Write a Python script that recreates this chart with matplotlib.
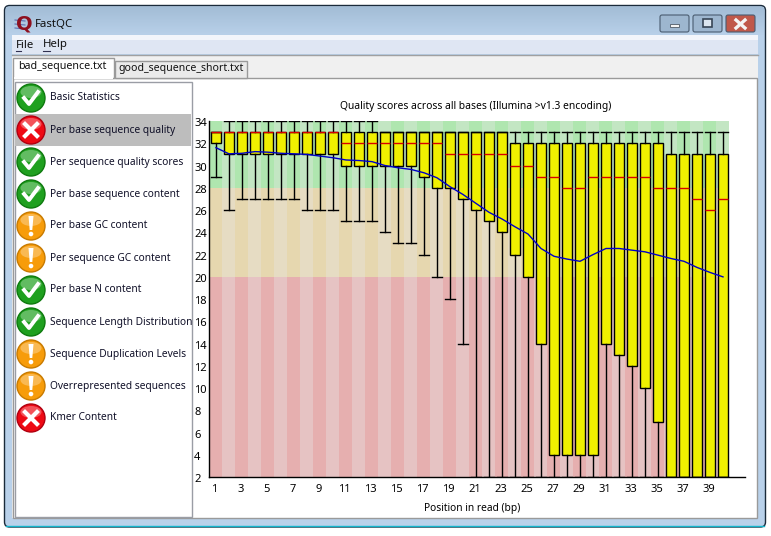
import numpy as np
import matplotlib
matplotlib.use("Agg")
import matplotlib.pyplot as plt
from matplotlib.patches import Circle, Ellipse, FancyBboxPatch, Polygon, Rectangle
from matplotlib.transforms import ScaledTranslation

plt.rcParams["font.family"] = "Noto Sans"

W, H = 771, 536

# Per base quality data
positions = list(range(1, 41))
medians = [33, 33, 33, 33, 33, 33, 33, 33, 33, 33,
           32, 32, 32, 32, 32, 32, 32, 32, 31, 31,
           31, 31, 31, 30, 30, 29, 29, 28, 28, 29,
           29, 29, 29, 29, 28, 28, 28, 27, 26, 27]
q75 = [33, 33, 33, 33, 33, 33, 33, 33, 33, 33,
       33, 33, 33, 33, 33, 33, 33, 33, 33, 33,
       33, 33, 33, 32, 32, 32, 32, 32, 32, 32,
       32, 32, 32, 32, 32, 31, 31, 31, 31, 31]
q25 = [32, 31, 31, 31, 31, 31, 31, 31, 31, 31,
       30, 30, 30, 30, 30, 30, 29, 28, 28, 27,
       26, 25, 24, 22, 20, 14, 4, 4, 4, 4,
       14, 13, 12, 10, 7, 2, 2, 2, 2, 2]
lows = [29, 26, 27, 27, 27, 27, 27, 26, 26, 26,
        25, 25, 25, 24, 23, 23, 22, 20, 18, 14,
        2, 2, 2, 2, 2, 2, 2, 2, 2, 2,
        2, 2, 2, 2, 2, 2, 2, 2, 2, 2]
highs = [33, 34, 34, 34, 34, 34, 34, 34, 34, 34,
         34, 34, 34, 33, 33, 33, 33, 33, 33, 33,
         33, 33, 33, 33, 33, 33, 33, 33, 33, 33,
         33, 33, 33, 33, 33, 33, 33, 33, 33, 33]
means = [31.6, 31.05, 31.1, 31.25, 31.2, 31.1, 31.05, 31.0, 30.85, 30.7,
         30.5, 30.45, 30.35, 30.0, 29.8, 29.65, 29.35, 28.9, 28.1, 27.4,
         26.6, 25.8, 25.2, 24.5, 23.85, 22.55, 21.85, 21.6, 21.4, 22.0,
         22.55, 22.55, 22.4, 22.25, 21.95, 21.65, 21.4, 20.85, 20.4, 20.0]

# quality zones: bottom, top, colour on odd positions, colour on even ones
zone_edges = [2, 20, 28, 34]
zone_odd = ["#E6AFAF", "#E6D7AF", "#AFE6AF"]
zone_even = ["#E6C3C3", "#E6DCC3", "#C3E6C3"]

modules = ["Basic Statistics", "Per base sequence quality", "Per sequence quality scores",
           "Per base sequence content", "Per base GC content", "Per sequence GC content",
           "Per base N content", "Sequence Length Distribution", "Sequence Duplication Levels",
           "Overrepresented sequences", "Kmer Content"]
statuses = ["ok", "fail", "ok", "ok", "warn", "warn", "ok", "ok", "warn", "warn", "fail"]
status_colors = {"ok": ("#1FA01F", "#0E7A0E"), "fail": ("#EE0A14", "#B00010"), "warn": ("#F79C0A", "#C87A00")}

fig = plt.figure(figsize=(W / 100, H / 100), dpi=100, facecolor="white")

# window chrome, drawn in pixel coordinates
chrome = fig.add_axes([0, 0, 1, 1])
chrome.axis("off")


def box(x0, y0, x1, y1, fc, ec="none", lw=1, z=1):
    chrome.add_patch(Rectangle((x0, y0), x1 - x0, y1 - y0, facecolor=fc, edgecolor=ec, linewidth=lw, zorder=z))


chrome.add_patch(FancyBboxPatch((4.5, 5.5), 761, 521.5, boxstyle="round,pad=0,rounding_size=5",
                                facecolor="#B9D1EA", edgecolor="#1A2A3A", linewidth=1, zorder=0))
grad = np.linspace(0, 1, 30).reshape(-1, 1)
chrome.imshow(grad, extent=(6, 764, 35, 7), aspect="auto", cmap=matplotlib.colors.LinearSegmentedColormap.from_list(
    "bar", ["#A3BDD6", "#B8D0E9"]), zorder=1)
chrome.set_xlim(0, W)
chrome.set_ylim(H, 0)

box(12, 35, 758, 54, "#DFE6F3", z=2)
box(12, 35, 758, 40, "#F2F5FB", z=2)
chrome.plot([12, 758], [54.5, 54.5], color="#A0A0A0", lw=1, zorder=3)
box(12, 55, 758, 518, "#F0F0F0", z=2)
box(12.5, 77.5, 756.5, 518, "white", ec="#9A9A9A", z=3)
box(114.5, 60.5, 246.5, 77.5, "#EAEAEA", ec="#9A9A9A", z=3)
box(12.5, 57.5, 113.5, 78, "white", ec="#9A9A9A", z=4)
box(13.5, 77, 113, 79, "white", z=4)
box(14.5, 81.5, 191.5, 516.5, "white", ec="#9A9DA5", z=4)
box(15, 114, 191, 146, "#BDBDBD", z=5)
chrome.plot([6, 764], [526, 526], color="#12B5CC", lw=1, zorder=3)

chrome.text(35, 24.5, "FastQC", fontsize=8.2, va="center", color="#101010", zorder=6)
for yy in [20, 24, 28]:
    chrome.plot([15, 25], [yy, yy + 1], color="#3A4A9A", lw=0.8, alpha=0.7, zorder=5)
chrome.text(24, 23.5, "Q", fontsize=14, fontweight="bold", family="DejaVu Sans", ha="center", va="center",
            color="#8E1020", zorder=6)

chrome.text(16, 45, "File", fontsize=8.2, va="center", color="#101010", zorder=6)
chrome.text(43, 45, "Help", fontsize=8.2, va="center", color="#101010", zorder=6)
chrome.plot([16, 21], [51, 51], color="#303050", lw=0.8, zorder=6)
chrome.plot([43, 50], [51, 51], color="#303050", lw=0.8, zorder=6)
chrome.text(18, 67, "bad_sequence.txt", fontsize=7.7, va="center", color="#101010", zorder=6)
chrome.text(118, 69, "good_sequence_short.txt", fontsize=7.6, va="center", color="#101010", zorder=6)

# minimise, maximise, close
for x0, x1, col in [(660, 689, "#9DB6CF"), (693, 722, "#9DB6CF"), (726, 755, "#C0584A")]:
    chrome.add_patch(FancyBboxPatch((x0, 15), x1 - x0, 17, boxstyle="round,pad=0,rounding_size=2",
                                    facecolor=col, edgecolor="#4A5C70", linewidth=0.8, zorder=3))
box(670, 24, 679, 27, "#F4F4F4", ec="#505A66", lw=0.6, z=4)
box(703, 19, 712, 27, "#DCE6F0", ec="#384656", lw=1.2, z=4)
chrome.plot([736, 745], [20, 28], color="#F4F4F4", lw=2.4, zorder=4)
chrome.plot([736, 745], [28, 20], color="#F4F4F4", lw=2.4, zorder=4)

# module list with status icons
for i, (name, status) in enumerate(zip(modules, statuses)):
    cy = 98 + 32 * i
    fc, ec = status_colors[status]
    chrome.add_patch(Circle((31, cy), 14, facecolor=fc, edgecolor=ec, linewidth=1, zorder=6))
    chrome.add_patch(Ellipse((31, cy - 6), 21, 12, facecolor="white", alpha=0.3, edgecolor="none", zorder=7))
    if status == "ok":
        chrome.plot([24, 29, 38], [cy, cy + 6, cy - 6], color="white", lw=2.8, zorder=8)
    elif status == "fail":
        chrome.plot([25, 37], [cy - 6, cy + 6], color="white", lw=3, zorder=8)
        chrome.plot([25, 37], [cy + 6, cy - 6], color="white", lw=3, zorder=8)
    else:
        chrome.add_patch(Polygon([(28.5, cy - 10), (33.5, cy - 10), (32.3, cy + 4), (29.7, cy + 4)],
                                 facecolor="white", edgecolor="none", zorder=8))
        chrome.add_patch(Circle((31, cy + 8), 2.3, facecolor="white", zorder=8))
    chrome.text(50, cy, name, fontsize=7.35, va="center", color="#101028", zorder=8)

# the quality plot, 13 px per base
left, right, top, bottom = 209.5, 745, 121, 477.3
ax = fig.add_axes([left / W, 1 - bottom / H, (right - left) / W, (bottom - top) / H])
ax.patch.set_alpha(0)
ax.set_xlim(0.5, 0.5 + (right - left) / 13)
ax.set_ylim(2, 34)

for j in range(len(zone_odd)):
    h = zone_edges[j + 1] - zone_edges[j]
    cols = [zone_odd[j] if p % 2 else zone_even[j] for p in positions]
    ax.bar(positions, h, bottom=zone_edges[j], width=1, color=cols, linewidth=0, zorder=1)

stats = [dict(med=m, q1=a, q3=b, whislo=lo, whishi=hi, fliers=[])
         for m, a, b, lo, hi in zip(medians, q25, q75, lows, highs)]
ax.bxp(stats, positions=positions, widths=0.72, capwidths=0.72, showfliers=False, patch_artist=True,
       boxprops=dict(facecolor="#F0F000", edgecolor="black", linewidth=1),
       medianprops=dict(color="#D80000", linewidth=1),
       whiskerprops=dict(color="black", linewidth=1),
       capprops=dict(color="black", linewidth=1), zorder=3, manage_ticks=False)
ax.plot(positions, means, color="#0000C8", lw=1, zorder=5)

for side in ["top", "right"]:
    ax.spines[side].set_visible(False)
for side in ["left", "bottom"]:
    ax.spines[side].set_linewidth(1)
    ax.spines[side].set_zorder(6)

ax.set_yticks(range(2, 35, 2))
ax.set_xticks(range(1, 40, 2))
ax.tick_params(axis="both", length=0, labelsize=8)
ax.tick_params(axis="y", pad=11)
ytick_shift = ScaledTranslation(0, -1 / 100, fig.dpi_scale_trans)
for lab in ax.get_yticklabels():
    lab.set_ha("left")
    lab.set_transform(lab.get_transform() + ytick_shift)
ax.tick_params(axis="x", pad=4.5)
xtick_shift = ScaledTranslation(-1.5 / 100, 0, fig.dpi_scale_trans)
for lab in ax.get_xticklabels():
    lab.set_transform(lab.get_transform() + xtick_shift)

chrome.text(476, 107, "Quality scores across all bases (Illumina >v1.3 encoding)", fontsize=7.4,
            ha="center", va="center", color="black", zorder=6)
chrome.text(472, 508.5, "Position in read (bp)", fontsize=7.35, ha="center", va="center", color="black", zorder=6)

fig.savefig("out.png", dpi=100)
